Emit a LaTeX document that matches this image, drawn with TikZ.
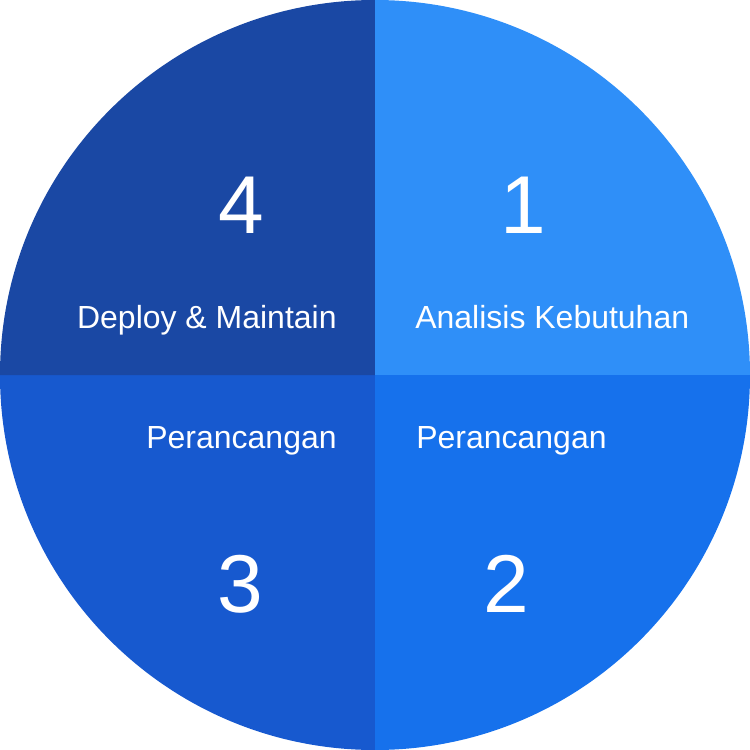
\documentclass[tikz,border=0pt]{standalone}
\usepackage{fontspec}
\setmainfont{Liberation Sans}
\begin{document}
\begin{tikzpicture}[
    phaselabel/.style={text=white, inner sep=0pt, font=\fontsize{18.2}{22}\selectfont},
    phasenum/.style={text=white, inner sep=0pt, anchor=base, font=\fontsize{46.7}{56}\selectfont}
  ]
      % Color definitions
      \definecolor{phaseone}{RGB}{47, 143, 248}
      \definecolor{phasetwo}{RGB}{22, 113, 236}
      \definecolor{phasethree}{RGB}{23, 89, 207}
      \definecolor{phasefour}{RGB}{26, 72, 164}

      % Circle parameters
      \def\radius{7.5}

      \useasboundingbox (-\radius,-\radius) rectangle (\radius,\radius);

      % Quadrants
      \foreach \start/\col in {0/phaseone, 270/phasetwo, 180/phasethree, 90/phasefour} {
          \fill[fill=\col] (0,0) -- (\start:\radius) arc[start angle=\start, delta angle=90, radius=\radius] -- cycle;
      }

      % Phase numbers
      \node[phasenum] (numone) at (2.96,2.84) {1};
      \node[phasenum] (numtwo) at (2.62,-4.74) {2};
      \node[phasenum] (numthree) at (-2.7,-4.74) {3};
      \node[phasenum] (numfour) at (-2.68,2.84) {4};

      % Phase labels
      \node[phaselabel, anchor=base west] (analisis) at (0.8,0.94) {Analisis Kebutuhan};
      \node[phaselabel, anchor=base west] (rancangtwo) at (0.82,-1.46) {Perancangan};
      \node[phaselabel, anchor=base east] (rancangthree) at (-0.76,-1.46) {Perancangan};
      \node[phaselabel, anchor=base east] (deploy) at (-0.76,0.94) {Deploy \& Maintain};

  \end{tikzpicture}
\end{document}
